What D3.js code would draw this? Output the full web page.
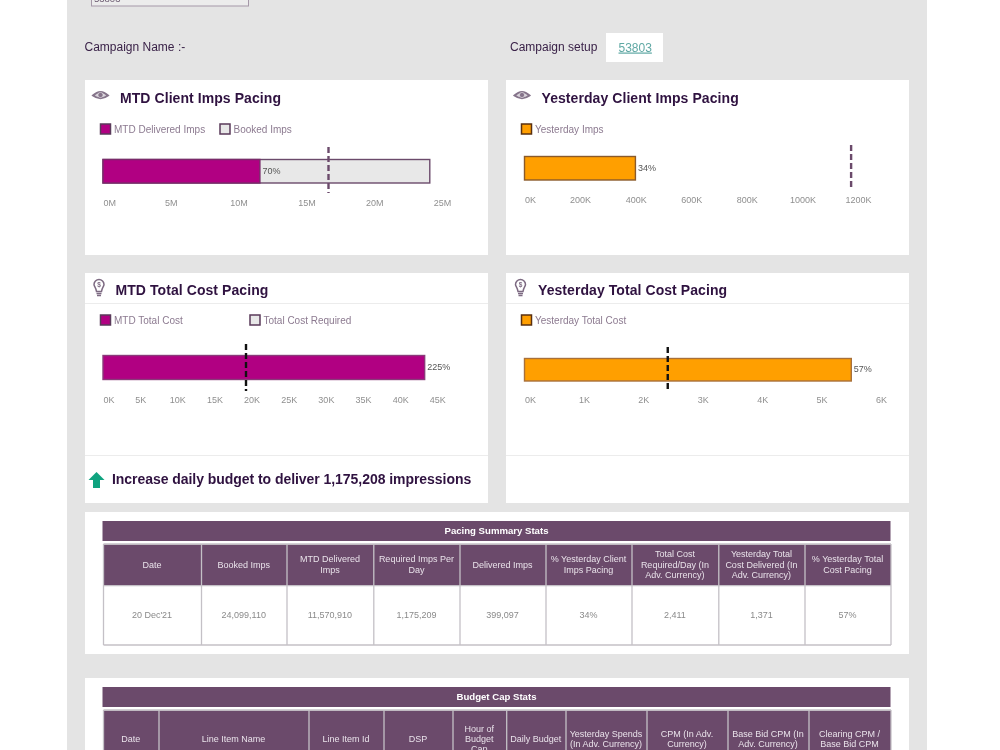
<!DOCTYPE html>
<html><head><meta charset="utf-8">
<script src="https://cdn.jsdelivr.net/npm/d3@7"></script>
<style>
html,body{margin:0;padding:0;background:#fff;overflow:hidden}
svg{display:block;filter:blur(.5px)}
text{font-family:"Liberation Sans",Arial,sans-serif}
</style></head><body><div id="c"></div>
<script>
// ---- data ----
const deliveredImps = 11570910, bookedImps = 24099110, mtdImpsRequired = 16630000;
const yesterdayImps = 399097, yesterdayImpsRequired = 1175209;
const mtdCost = 43300, mtdCostRequired = 19250;
const yesterdayCost = 5500, yesterdayCostRequired = 2411;
const ticksMtdImps = [0,5,10,15,20,25];
const ticksYdayImps = [0,200,400,600,800,1000,1200];
const ticksMtdCost = [0,5,10,15,20,25,30,35,40,45];
const ticksYdayCost = [0,1,2,3,4,5,6];
const pacingHeaders = ["Date","Booked Imps","MTD Delivered|Imps","Required Imps Per|Day","Delivered Imps","% Yesterday Client|Imps Pacing","Total Cost|Required/Day (In|Adv. Currency)","Yesterday Total|Cost Delivered (In|Adv. Currency)","% Yesterday Total|Cost Pacing"];
const pacingRow = ["20 Dec'21","24,099,110","11,570,910","1,175,209","399,097","34%","2,411","1,371","57%"];
const budgetHeaders = ["Date","Line Item Name","Line Item Id","DSP","Hour of|Budget|Cap","Daily Budget","Yesterday Spends|(In Adv. Currency)","CPM (In Adv.|Currency)","Base Bid CPM (In|Adv. Currency)","Clearing CPM /|Base Bid CPM"];

// ---- layout ----
const W=1000,H=750, PURPLE="#6b4a6b", MAG="#b10082", ORG="#ff9f00", INK="#2f1240";
const svg=d3.select("#c").append("svg").attr("width",W).attr("height",H).attr("viewBox",`0 0 ${W} ${H}`);
const rect=(x,y,w,h,f,s,sw)=>svg.append("rect").attr("x",x).attr("y",y).attr("width",w).attr("height",h).attr("fill",f).attr("stroke",s||"none").attr("stroke-width",sw||0);
const txt=(x,y,t,size,fill,o={})=>svg.append("text").attr("x",x).attr("y",y).attr("font-size",size).attr("fill",fill).attr("font-weight",o.bold?"bold":null).attr("text-anchor",o.anchor||"start").attr("letter-spacing",o.ls||null).text(t);

rect(67,0,860,H,"#e4e4e4");
rect(91.5,-10,157,16,"#ececec","#a598a8",1);
txt(94,2,"53803",9.5,"#6b5a70");
txt(84.5,51,"Campaign Name :-",12,"#3a2248");
txt(510,51,"Campaign setup",12,"#3a2248");
rect(606,33,57,29,"#fff");
txt(618.5,51.5,"53803",12,"#5fa8a4").attr("text-decoration","underline");

// panels
[[85,80,403,175],[506,80,403,175],[85,273,403,230],[506,273,403,230]].forEach(p=>rect(...p,"#fff"));
[[85,303,488],[506,303,909],[85,455,488],[506,455,909]].forEach(([a,y,b])=>svg.append("line").attr("x1",a).attr("x2",b).attr("y1",y+.5).attr("y2",y+.5).attr("stroke","#ececec"));

function eye(x,y){const g=svg.append("g").attr("transform",`translate(${x},${y})`).attr("fill","#d8d2da").attr("stroke","#85748a");
 g.append("path").attr("d","M-7.5 0Q0-7 7.5 0Q0 5.5-7.5 0Z").attr("stroke-width",2);
 g.append("circle").attr("r",2.6).attr("cy",-.5).attr("fill","#85748a").attr("stroke","#fff").attr("stroke-width",.5);}
function bulb(x,y){const g=svg.append("g").attr("transform",`translate(${x},${y})`).attr("fill","none").attr("stroke","#7d6a82").attr("stroke-width",1.5);
 g.append("path").attr("d","M-2.5 3.5C-3-.5-5-1.5-5-3.5A5 5 0 0 1 5-3.5C5-1.5 3-.5 2.5 3.5Z");
 g.append("path").attr("d","M-2.5 5.5H2.5M-2 7.5H2");
 g.append("text").attr("y",-1).attr("text-anchor","middle").attr("font-size",6.5).attr("fill","#7d6a82").attr("stroke","none").attr("font-weight","bold").text("$");}
eye(100.5,95.5); eye(522,95.5); bulb(99,288); bulb(520.5,288);
txt(120,103,"MTD Client Imps Pacing",14,INK,{bold:1,ls:.07});
txt(541.5,103,"Yesterday Client Imps Pacing",14,INK,{bold:1,ls:.07});
txt(115.5,295,"MTD Total Cost Pacing",14,INK,{bold:1,ls:.07});
txt(538,295,"Yesterday Total Cost Pacing",14,INK,{bold:1,ls:.07});

function legend(x,y,fill,stroke,label){rect(x+.5,y-5.5,10,10,fill,stroke,1.5);txt(x+14,y+3,label,10,"#8c7a90");}
legend(100,129.5,MAG,"#5a3a5a","MTD Delivered Imps");
legend(219.5,129.5,"#e8e8e8","#5a3a5a","Booked Imps");
legend(521,129.5,ORG,"#5a3010","Yesterday Imps");
legend(100,320.5,MAG,"#5a3a5a","MTD Total Cost");
legend(249.5,320.5,"#e8e8e8","#5a3a5a","Total Cost Required");
legend(521,320.5,ORG,"#5a3010","Yesterday Total Cost");

function bullet(o){
 const x=d3.scaleLinear().domain([0,o.max]).range([o.x0,o.x1]);
 const g=svg.append("g");
 if(o.back!=null) g.append("rect").attr("x",x(0)).attr("y",o.top).attr("width",x(o.back)-x(0)).attr("height",o.h).attr("fill","#e8e8e8").attr("stroke",PURPLE).attr("stroke-width",1.4);
 g.append("rect").attr("x",x(0)).attr("y",o.top).attr("width",x(o.val)-x(0)).attr("height",o.h).attr("fill",o.color).attr("stroke",o.stroke).attr("stroke-width",1.4);
 g.append("text").attr("x",x(o.val)+2.5).attr("y",o.top+o.h/2+2.5).attr("font-size",9).attr("fill","#555").text(o.pct);
 g.append("line").attr("x1",x(o.req)).attr("x2",x(o.req)).attr("y1",o.m0).attr("y2",o.m1).attr("stroke",o.mc).attr("stroke-width",2.4).attr("stroke-dasharray","6 3");
 const ax=svg.append("g").attr("transform",`translate(0,${o.ay})`).call(d3.axisBottom(x).tickValues(o.ticks).tickSize(0).tickPadding(0).tickFormat(d=>(d/o.div)+o.unit));
 ax.select(".domain").remove();
 ax.selectAll("text").attr("font-size",9).attr("fill","#8f8f8f").attr("font-family",'"Liberation Sans",Arial,sans-serif')
  .attr("text-anchor",(d,i)=>i?"middle":"start").attr("dy",0).attr("y",0);
}
bullet({x0:103,x1:442,max:25e6,val:deliveredImps,back:bookedImps,req:mtdImpsRequired,top:159.5,h:23.5,color:MAG,stroke:"#7a2a6a",mc:PURPLE,m0:147,m1:193,ay:206,ticks:ticksMtdImps.map(d=>d*1e6),div:1e6,unit:"M",pct:"70%"});
bullet({x0:524.5,x1:858,max:1200e3,val:yesterdayImps,req:yesterdayImpsRequired,top:156.5,h:23.5,color:ORG,stroke:"#8a5a2a",mc:PURPLE,m0:145,m1:189,ay:203,ticks:ticksYdayImps.map(d=>d*1e3),div:1e3,unit:"K",pct:"34%"});
bullet({x0:103,x1:437.3,max:45e3,val:mtdCost,req:mtdCostRequired,top:355.5,h:24,color:MAG,stroke:"#8a3a7a",mc:"#111",m0:344,m1:391,ay:403,ticks:ticksMtdCost.map(d=>d*1e3),div:1e3,unit:"K",pct:"225%"});
bullet({x0:524.5,x1:881,max:6e3,val:yesterdayCost,req:yesterdayCostRequired,top:358.5,h:22.5,color:ORG,stroke:"#a8703a",mc:"#111",m0:347,m1:392,ay:403,ticks:ticksYdayCost.map(d=>d*1e3),div:1e3,unit:"K",pct:"57%"});

// recommendation
svg.append("path").attr("transform","translate(96.5,480)").attr("fill","#0fa37f").attr("d",d3.line()([[0,-8],[8,0],[3.5,0],[3.5,8],[-3.5,8],[-3.5,0],[-8,0]])+"Z");
txt(112,484,"Increase daily budget to deliver 1,175,208 impressions",14,INK,{bold:1,ls:-.05});

// tables
function table(o){
 rect(85,o.cardTop,824,o.cardH,"#fff");
 rect(102.5,o.titleTop,788,20,PURPLE);
 txt(496.5,o.titleTop+13,o.title,9.6,"#fff",{bold:1,anchor:"middle"});
 o.headers.forEach((h,i)=>{
  const a=o.edges[i],b=o.edges[i+1];
  rect(a,o.headTop,b-a,o.headH,PURPLE);
  const lines=h.split("|"),cy=o.headTop+o.headH/2;
  lines.forEach((l,j)=>txt((a+b)/2-.5,cy+o.dy+(j-(lines.length-1)/2)*o.lh,l,9,"#e9e2ea",{anchor:"middle"}));
  if(o.row) txt((a+b)/2-.5,o.rowTop+o.rowH/2+2,o.row[i],9,"#8a8a8a",{anchor:"middle"});
 });
 const gc="#c4c0c6";
 o.edges.forEach(e=>svg.append("line").attr("x1",e).attr("x2",e).attr("y1",o.headTop-.5).attr("y2",o.row?o.rowTop+o.rowH:H).attr("stroke",gc).attr("stroke-width",1.3));
 [o.headTop-.5,o.headTop+o.headH+.2].concat(o.row?[o.rowTop+o.rowH]:[]).forEach(y=>svg.append("line").attr("x1",o.edges[0]).attr("x2",o.edges[o.edges.length-1]).attr("y1",y).attr("y2",y).attr("stroke",gc).attr("stroke-width",1.3));
}
table({cardTop:512,cardH:142,titleTop:521,title:"Pacing Summary Stats",headTop:544.5,headH:41,lh:10.5,dy:2.5,headers:pacingHeaders,row:pacingRow,rowTop:586,rowH:59,edges:[103.5,201.5,287,373.8,460,546,632,718.8,805,891]});
table({cardTop:678,cardH:72,titleTop:687,title:"Budget Cap Stats",headTop:710.5,headH:57,lh:10.3,dy:3,headers:budgetHeaders,edges:[103.5,159,309,384,453,506.7,566,647,728,809,891]});
</script></body></html>
